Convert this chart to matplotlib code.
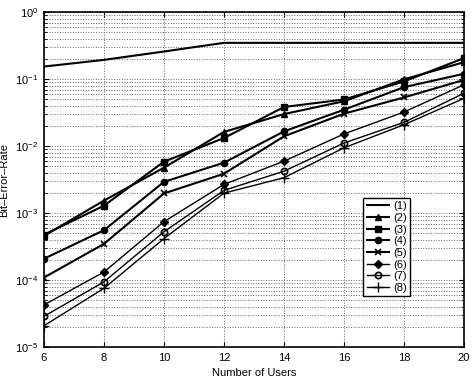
import numpy as np
import matplotlib
matplotlib.use("Agg")
import matplotlib.pyplot as plt

plt.rcParams['font.family'] = ['Liberation Sans', 'DejaVu Sans']
plt.rcParams['mathtext.fontset'] = 'custom'
plt.rcParams['mathtext.rm'] = 'Liberation Sans'

# number of users
users = [6, 8, 10, 12, 14, 16, 18, 20]

# bit error rate for each curve
ber1 = [0.155, 0.195, 0.26, 0.35, 0.35, 0.35, 0.35, 0.35]
ber2 = [4.6e-4, 1.55e-3, 4.8e-3, 0.0164, 0.0303, 0.047, 0.10, 0.18]
ber3 = [4.8e-4, 1.3e-3, 5.9e-3, 0.0133, 0.0386, 0.050, 0.093, 0.207]
ber4 = [2.1e-4, 5.6e-4, 2.95e-3, 5.7e-3, 0.0167, 0.0352, 0.0764, 0.121]
ber5 = [1.1e-4, 3.5e-4, 1.98e-3, 3.9e-3, 0.0141, 0.0307, 0.0536, 0.098]
ber6 = [4.3e-5, 1.33e-4, 7.5e-4, 2.7e-3, 6.0e-3, 0.0153, 0.0325, 0.083]
ber7 = [2.9e-5, 9.5e-5, 5.3e-4, 2.2e-3, 4.25e-3, 0.0112, 0.0228, 0.062]
ber8 = [2.1e-5, 7.6e-5, 4.2e-4, 2.0e-3, 3.4e-3, 9.5e-3, 0.021, 0.052]

labels = ['(1)', '(2)', '(3)', '(4)', '(5)', '(6)', '(7)', '(8)']

fig = plt.figure(figsize=(4.74, 3.82), dpi=100)
ax = fig.add_axes([0.0928, 0.0908, 0.8862, 0.8770])

ax.semilogy(users, ber1, '-', color='k', lw=1.5, label=labels[0])
ax.semilogy(users, ber2, '-^', color='k', lw=1.5, ms=5, label=labels[1])
ax.semilogy(users, ber3, '-s', color='k', lw=1.5, ms=4, label=labels[2])
ax.semilogy(users, ber4, '-o', color='k', lw=1.5, ms=4.5, label=labels[3])
ax.semilogy(users, ber5, '-x', color='k', lw=1.5, ms=5, mew=1.2, label=labels[4])
ax.semilogy(users, ber6, '-D', color='k', lw=1.0, ms=4, label=labels[5])
ax.semilogy(users, ber7, '-o', color='k', lw=1.0, ms=4.5, mfc='none', mew=1.2, label=labels[6])
ax.semilogy(users, ber8, '-+', color='k', lw=1.0, ms=7, mew=1.0, label=labels[7])

ax.set_xlim(6, 20)
ax.set_ylim(1e-5, 1)
ax.set_xticks([6, 8, 10, 12, 14, 16, 18, 20])
ax.grid(True, which='major', ls=':', color='#666666', lw=0.7)
ax.grid(True, which='minor', axis='y', ls=':', color='#666666', lw=0.7)
ax.tick_params(which='both', direction='in', labelsize=8, top=True, right=True, pad=4)
for s in ax.spines.values():
    s.set_linewidth(1.2)

ax.set_xlabel('Number of Users', fontsize=8)
ax.xaxis.set_label_coords(0.5, -0.062)
ax.set_ylabel('Bit\u2013Error\u2013Rate', fontsize=8)
ax.yaxis.set_label_coords(-0.083, 0.5)

leg = ax.legend(loc='upper left', bbox_to_anchor=(0.76, 0.446), borderaxespad=0,
                fontsize=8, handlelength=2.0, labelspacing=0.15, borderpad=0.3,
                handletextpad=0.4, fancybox=False, framealpha=1, edgecolor='k')
leg.get_frame().set_linewidth(1.0)

fig.savefig('out.png', dpi=100)
